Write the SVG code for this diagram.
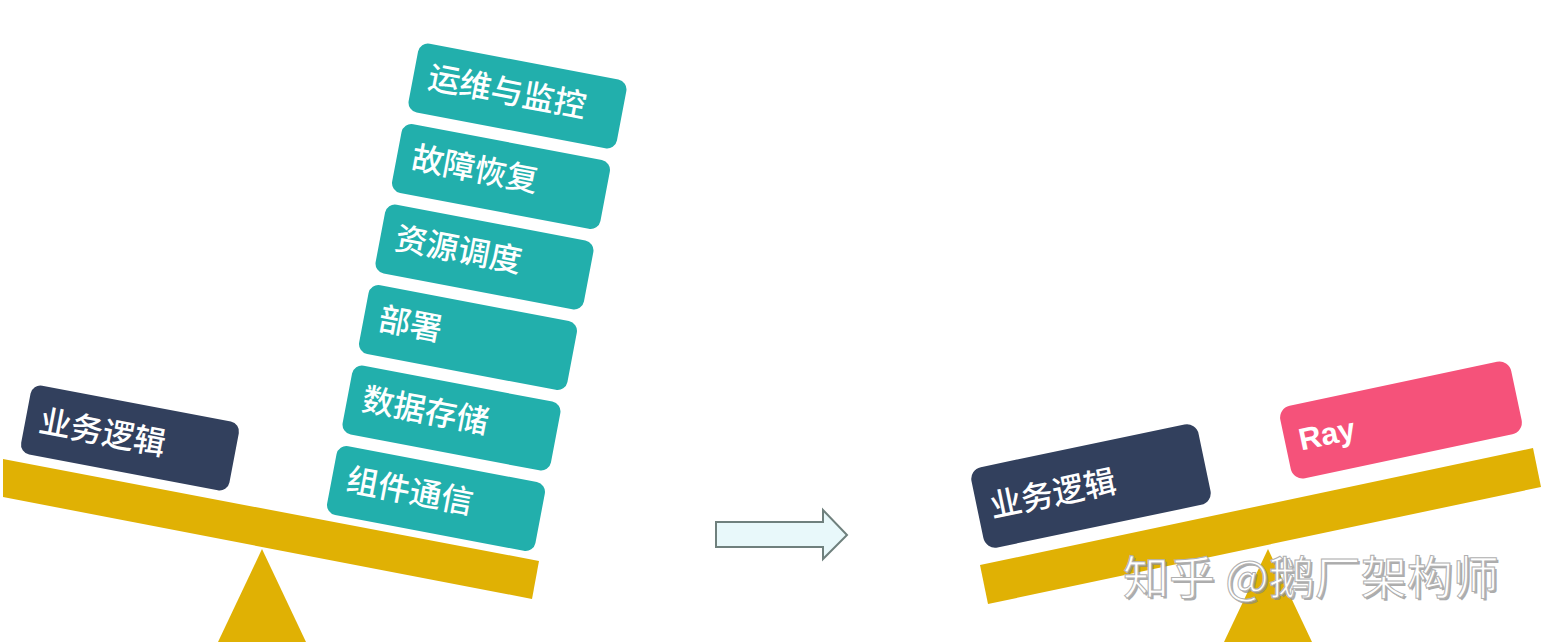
<svg xmlns="http://www.w3.org/2000/svg" width="1544" height="644" viewBox="0 0 1544 644">
<style>
.lbl{font-family:"Noto Sans CJK SC","Liberation Sans",sans-serif;fill:#ffffff;font-size:32px;font-weight:500}
.teal{fill:#22AFAC}
.navy{fill:#32405D}
.gold{fill:#E0B104}
.pink{fill:#F5527A}
.ray{font-family:"Liberation Sans",Arial,sans-serif;font-weight:bold;fill:#ffffff;font-size:31px}
.wm{font-family:"Noto Sans CJK SC","Liberation Sans",sans-serif;font-size:46px}
</style>
<rect width="1544" height="644" fill="#ffffff"/>

<!-- left seesaw -->
<g id="left-seesaw">
  <polygon class="gold" points="262,549 218,642 306,642"/>
  <polygon class="gold" points="3,459 539,561 532,599 3,497"/>
</g>

<g id="left-business" transform="translate(130,438) rotate(10.8)">
  <rect class="navy" x="-106" y="-35" width="212" height="70" rx="10"/>
  <text class="lbl" x="-92" y="11">业务逻辑</text>
</g>

<g id="ops" transform="translate(517.5,96) rotate(10.8)">
  <rect class="teal" x="-106" y="-35" width="212" height="70" rx="10"/>
  <text class="lbl" x="-91" y="9">运维与监控</text>
</g>
<g id="recovery" transform="translate(501,176.5) rotate(10.8)">
  <rect class="teal" x="-106" y="-35" width="212" height="70" rx="10"/>
  <text class="lbl" x="-91" y="9">故障恢复</text>
</g>
<g id="scheduling" transform="translate(484.5,257) rotate(10.8)">
  <rect class="teal" x="-106" y="-35" width="212" height="70" rx="10"/>
  <text class="lbl" x="-91" y="9">资源调度</text>
</g>
<g id="deploy" transform="translate(468,337.5) rotate(10.8)">
  <rect class="teal" x="-106" y="-35" width="212" height="70" rx="10"/>
  <text class="lbl" x="-91" y="9">部署</text>
</g>
<g id="storage" transform="translate(451.5,418) rotate(10.8)">
  <rect class="teal" x="-106" y="-35" width="212" height="70" rx="10"/>
  <text class="lbl" x="-91" y="9">数据存储</text>
</g>
<g id="comm" transform="translate(436,498.5) rotate(10.8)">
  <rect class="teal" x="-106" y="-35" width="212" height="70" rx="10"/>
  <text class="lbl" x="-91" y="9">组件通信</text>
</g>

<!-- transition arrow -->
<g id="connectors">
  <polygon points="716,522 823,522 823,510 847,535 823,559 823,547 716,547" fill="#E8F8FA" stroke="#6F807D" stroke-width="2" stroke-linejoin="miter"/>
</g>

<!-- right seesaw -->
<g id="right-seesaw">
  <polygon class="gold" points="1268,549 1224,642 1312,642"/>
  <polygon class="gold" points="980,565 1533,448 1541,487 988,604"/>
</g>

<g id="right-business" transform="translate(1091,486) rotate(-11.8)">
  <rect class="navy" x="-116" y="-41" width="232" height="82" rx="12"/>
  <text class="lbl" x="-103" y="11">业务逻辑</text>
</g>

<g id="ray" transform="translate(1401,420) rotate(-12)">
  <rect class="pink" x="-118" y="-37" width="236" height="74" rx="12"/>
  <text class="ray" x="-104" y="9">Ray</text>
</g>

<!-- watermark -->
<g id="watermark">
  <text class="wm" x="1125" y="596" fill="#8a8a8a" opacity="0.7">知乎 @鹅厂架构师</text>
  <text class="wm" x="1123" y="594" fill="#ffffff" stroke="#b0b0b0" stroke-width="1">知乎 @鹅厂架构师</text>
</g>
</svg>
